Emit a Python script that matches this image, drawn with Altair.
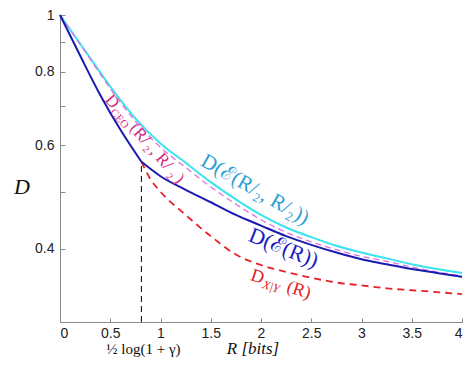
import altair as alt
import pandas as pd

# ---- data ----
R_pre = [0.0, 0.2, 0.4, 0.6, 0.81]
D_blue_pre = [1.0, 0.853, 0.731, 0.638, 0.5623]

R_post = [0.81, 1.0, 1.25, 1.5, 1.75, 2.0, 2.25, 2.5, 2.75, 3.0, 3.25, 3.5, 3.75, 4.0]
D_blue_post = [0.5623, 0.5314, 0.5039, 0.4798, 0.4566, 0.4379, 0.4201, 0.4060,
               0.3939, 0.3836, 0.3763, 0.3692, 0.3637, 0.3582]

R_full = [0.0, 0.25, 0.5, 0.75, 1.0, 1.25, 1.5, 1.75, 2.0, 2.25, 2.5, 2.75, 3.0,
          3.25, 3.5, 3.75, 4.0]
D_cyan = [1.0, 0.8692, 0.7554, 0.6669, 0.6042, 0.5602, 0.5193, 0.4853, 0.4566,
          0.4346, 0.4185, 0.4045, 0.3939, 0.3850, 0.3763, 0.3692, 0.3637]
D_ceo = [1.0, 0.8660, 0.7499, 0.6593, 0.5953, 0.5497, 0.5095, 0.4762, 0.4480,
         0.4265, 0.4107, 0.3984, 0.3880, 0.3807, 0.3721, 0.3651, 0.3596]

R_red = [0.81, 0.9, 1.0, 1.25, 1.5, 1.75, 2.0, 2.25, 2.5, 2.75, 3.0, 3.25, 3.5, 3.75, 4.0]
D_red = [0.5623, 0.5253, 0.5000, 0.4566, 0.4201, 0.3909, 0.3750, 0.3651, 0.3569,
         0.3502, 0.3463, 0.3423, 0.3398, 0.3373, 0.3347]

R_gamma = 0.81
D_kink = 0.5623

x_ticks = [0, 0.5, 1, 1.5, 2, 2.5, 3, 3.5, 4]
y_labels = [0.4, 0.6, 0.8, 1.0]
y_ticks = [0.3, 0.4, 0.5, 0.6, 0.7, 0.8, 0.9, 1.0]

W, H = 402, 307
xs = alt.Scale(domain=[0, 4], nice=False)
ys = alt.Scale(type="log", domain=[0.3, 1.0], nice=False)

AX_COL = "#8a8a8a"
x_axis_main = alt.Axis(orient="bottom", values=x_ticks, format="~g", ticks=False,
                       domainColor=AX_COL, labelFont="Liberation Sans", labelFontSize=14,
                       labelColor="#222222", labelPadding=4, title=None, grid=False)
x_axis_ticks = alt.Axis(orient="top", offset=-H, values=x_ticks, labels=False, domain=False,
                        tickSize=4, tickColor=AX_COL, title=None, grid=False)
y_axis_main = alt.Axis(orient="left", values=y_labels, format="~g", ticks=False,
                       domainColor=AX_COL, labelFont="Liberation Sans", labelFontSize=14,
                       labelColor="#222222", labelPadding=6, title=None, grid=False)
y_axis_ticks = alt.Axis(orient="right", offset=-W, values=y_ticks, labels=False, domain=False,
                        tickSize=5, tickColor=AX_COL, title=None, grid=False)


def line(R, D, color, width, dash=None, xa=None, ya=None):
    df = pd.DataFrame({"R": R, "D": D})
    kw = dict(color=color, strokeWidth=width, interpolate="monotone")
    if dash:
        kw["strokeDash"] = dash
    return alt.Chart(df).mark_line(**kw).encode(
        x=alt.X("R:Q", scale=xs, axis=xa),
        y=alt.Y("D:Q", scale=ys, axis=ya),
    )


def label(txt, R, D, color, size, angle=0, align="center", baseline="middle",
          dx=0, dy=0, font="Liberation Serif", style="normal"):
    return alt.Chart().mark_text(text=txt, color=color, fontSize=size, angle=angle,
                                 align=align, baseline=baseline, dx=dx, dy=dy,
                                 font=font, fontStyle=style).encode(
        x=alt.XDatum(R, type="quantitative", scale=xs, axis=None),
        y=alt.YDatum(D, type="quantitative", scale=ys, axis=None),
    )


blue = "#1a1ab0"
cyan = "#38e4ee"
mag = "#e070e0"
red = "#e8202a"
mag_t = "#d42a86"
red_t = "#e02020"

# magenta label pieces: (text, size, dx, dy)
ceo_parts = [("D", 17, 0, 0), ("CEO", 11, 13, 4), ("(R/", 17, 38, 0), ("2", 10, 62, 4),
             (", R/", 17, 69, 0), ("2", 10, 98, 4), (")", 17, 106, 0)]
ceo_R, ceo_D, ceo_ang = 0.44, 0.716, 49

layers = [
    line(R_full, D_cyan, cyan, 2),
    line(R_full, D_ceo, mag, 1.3, dash=[6, 4]),
    line(R_red, D_red, red, 1.8, dash=[7, 5]),
    line(R_pre, D_blue_pre, blue, 2, xa=x_axis_main, ya=y_axis_main),
    line(R_post, D_blue_post, blue, 2, xa=x_axis_ticks, ya=y_axis_ticks),
    alt.Chart().mark_rule(color="black", strokeWidth=1, strokeDash=[6, 4]).encode(
        x=alt.XDatum(R_gamma, type="quantitative", scale=xs, axis=None),
        y=alt.YDatum(0.3, type="quantitative", scale=ys, axis=None),
        y2=alt.Y2Datum(D_kink),
    ),
]
for t, s, ddx, ddy in ceo_parts:
    layers.append(label(t, ceo_R, ceo_D, mag_t, s, angle=ceo_ang, align="left",
                        baseline="alphabetic", dx=ddx, dy=ddy))
layers += [
    label("D(\u2130(R/\u2082, R/\u2082))", 1.94, 0.504, "#2e9fd6", 21, angle=30),
    label("D(\u2130(R))", 2.225, 0.4014, "#1c1cc4", 22, angle=22),
    label("D", 1.887, 0.3542, red_t, 18, angle=18, align="left", baseline="alphabetic"),
    label("X|Y", 1.887, 0.3542, red_t, 12, angle=18, align="left", baseline="alphabetic",
          dx=14, dy=4, style="italic"),
    label("(R)", 1.887, 0.3542, red_t, 18, angle=18, align="left", baseline="alphabetic", dx=38),
]

# axis titles / annotations
ytitle = alt.Chart().mark_text(text="D", font="Liberation Serif", fontStyle="italic",
                               fontSize=22, color="#111111").encode(
    x=alt.value(-38), y=alt.YDatum(0.51, type="quantitative", scale=ys, axis=None))
gam = alt.Chart().mark_text(text="\u00bd log(1 + \u03b3)", font="Liberation Serif",
                            fontSize=15, color="#111111").encode(
    x=alt.XDatum(0.83, type="quantitative", scale=xs, axis=None), y=alt.value(H + 27))
rbits = alt.Chart().mark_text(text="R  [bits]", font="Liberation Serif", fontStyle="italic",
                              fontSize=17, color="#111111").encode(
    x=alt.XDatum(1.92, type="quantitative", scale=xs, axis=None), y=alt.value(H + 27))

chart = alt.layer(*layers, ytitle, gam, rbits).properties(
    width=W, height=H,
    padding={"left": 52, "top": 7, "right": 4, "bottom": 37},
    autosize=alt.AutoSizeParams(type="none"),
).configure_view(stroke=None)

chart.save("out.html", embed_options={"renderer": "svg", "actions": False})
